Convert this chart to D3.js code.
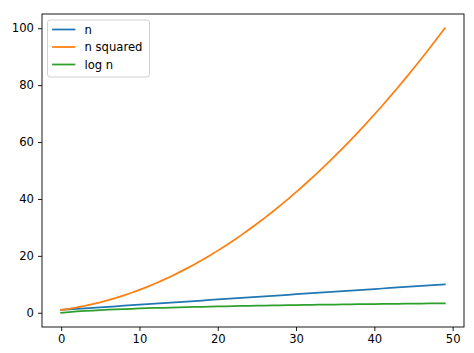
<!DOCTYPE html>
<html>
<head>
<meta charset="utf-8">
<script src="https://cdn.jsdelivr.net/npm/d3@7"></script>
<style>
  body { margin: 0; background: #fff; }
  text { font-family: "DejaVu Sans", sans-serif; }
</style>
</head>
<body>
<div id="chart"></div>
<script>
// data (x = 0..49)
var xs = d3.range(0, 50);
var nVals = [1.0000, 1.1837, 1.3673, 1.5510, 1.7347, 1.9184, 2.1020, 2.2857, 2.4694, 2.6531,
    2.8367, 3.0204, 3.2041, 3.3878, 3.5714, 3.7551, 3.9388, 4.1224, 4.3061, 4.4898,
    4.6735, 4.8571, 5.0408, 5.2245, 5.4082, 5.5918, 5.7755, 5.9592, 6.1429, 6.3265,
    6.5102, 6.6939, 6.8776, 7.0612, 7.2449, 7.4286, 7.6122, 7.7959, 7.9796, 8.1633,
    8.3469, 8.5306, 8.7143, 8.8980, 9.0816, 9.2653, 9.4490, 9.6327, 9.8163, 10.0000];
var nSquared = [1.0000, 1.4011, 1.8696, 2.4057, 3.0092, 3.6802, 4.4186, 5.2245, 6.0979, 7.0389,
    8.0470, 9.1229, 10.2663, 11.4772, 12.7551, 14.1008, 15.5141, 16.9942, 18.5425, 20.1583,
    21.8416, 23.5914, 25.4097, 27.2954, 29.2486, 31.2682, 33.3564, 35.5121, 37.7352, 40.0246,
    42.3827, 44.8083, 47.3014, 49.8605, 52.4886, 55.1841, 57.9456, 60.7761, 63.6740, 66.6395,
    69.6707, 72.7711, 75.9390, 79.1744, 82.4755, 85.8458, 89.2836, 92.7889, 96.3597, 100.0000];
var logN = [0.0000, 0.2433, 0.4514, 0.6332, 0.7947, 0.9399, 1.0718, 1.1926, 1.3042, 1.4077,
    1.5042, 1.5947, 1.6799, 1.7603, 1.8365, 1.9088, 1.9777, 2.0435, 2.1064, 2.1667,
    2.2245, 2.2801, 2.3336, 2.3853, 2.4351, 2.4833, 2.5299, 2.5751, 2.6189, 2.6614,
    2.7027, 2.7428, 2.7819, 2.8199, 2.8570, 2.8931, 2.9283, 2.9627, 2.9963, 3.0291,
    3.0612, 3.0926, 3.1234, 3.1535, 3.1829, 3.2118, 3.2401, 3.2679, 3.2951, 3.3219];
var seriesNames = ["n", "n squared", "log n"];
var seriesColors = ["#1f77b4", "#ff7f0e", "#2ca02c"];
var xTicks = [0, 10, 20, 30, 40, 50];
var yTicks = [0, 20, 40, 60, 80, 100];

var width = 474, height = 353;
var margin = {top: 14, right: 10, bottom: 26, left: 42};
var fontSize = 11.6;

var svg = d3.select("#chart").append("svg")
    .attr("width", width)
    .attr("height", height);

// matplotlib style 5% padding on both axes
var x = d3.scaleLinear()
    .domain([-2.45, 51.45])
    .range([margin.left, width - margin.right]);
var y = d3.scaleLinear()
    .domain([-5, 105])
    .range([height - margin.bottom, margin.top]);

var series = [nVals, nSquared, logN];

var line = d3.line()
    .x(function(d, i) { return x(xs[i]); })
    .y(function(d) { return y(d); });

svg.append("g").selectAll("path")
    .data(series)
    .enter()
    .append("path")
    .attr("d", line)
    .attr("fill", "none")
    .attr("stroke", function(d, i) { return seriesColors[i]; })
    .attr("stroke-width", 1.75)
    .attr("stroke-linecap", "square");

// axes
var xAxis = svg.append("g")
    .attr("transform", "translate(0," + (height - margin.bottom) + ")")
    .call(d3.axisBottom(x).tickValues(xTicks).tickSize(4).tickPadding(4).tickSizeOuter(0));
var yAxis = svg.append("g")
    .attr("transform", "translate(" + margin.left + ",0)")
    .call(d3.axisLeft(y).tickValues(yTicks).tickSize(4).tickPadding(4).tickSizeOuter(0));

[xAxis, yAxis].forEach(function(g) {
    g.select(".domain").remove();
    g.selectAll("line").attr("stroke", "#000").attr("stroke-width", 0.9);
    g.selectAll("text").attr("fill", "#000").style("font-size", fontSize + "px")
        .style("font-family", "DejaVu Sans, sans-serif");
});

// frame
svg.append("rect")
    .attr("x", margin.left)
    .attr("y", margin.top)
    .attr("width", width - margin.left - margin.right)
    .attr("height", height - margin.top - margin.bottom)
    .attr("fill", "none")
    .attr("stroke", "#000")
    .attr("stroke-width", 0.9);

// legend
var legend = svg.append("g").attr("transform", "translate(47.5,20)");
legend.append("rect")
    .attr("width", 102)
    .attr("height", 57)
    .attr("rx", 2.5)
    .attr("fill", "#fff")
    .attr("fill-opacity", 0.8)
    .attr("stroke", "#cccccc")
    .attr("stroke-width", 0.9);

var item = legend.selectAll(".item")
    .data(seriesNames)
    .enter()
    .append("g")
    .attr("transform", function(d, i) { return "translate(0," + (9.5 + i * 17.5) + ")"; });
item.append("line")
    .attr("x1", 4.6).attr("x2", 27.8)
    .attr("stroke", function(d, i) { return seriesColors[i]; })
    .attr("stroke-width", 1.75);
item.append("text")
    .attr("x", 37)
    .attr("dy", "0.35em")
    .style("font-size", fontSize + "px")
    .attr("fill", "#000")
    .text(function(d) { return d; });
</script>
</body>
</html>
